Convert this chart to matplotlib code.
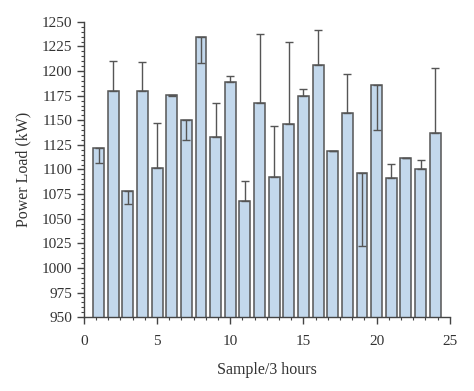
import numpy as np
import matplotlib
matplotlib.use("Agg")
import matplotlib.pyplot as plt
from matplotlib.ticker import MultipleLocator, AutoMinorLocator

plt.rcParams['font.family'] = ['Liberation Serif', 'DejaVu Serif']

samples = list(range(1, 25))
load = [1122, 1180, 1078, 1180, 1102, 1176, 1150, 1235, 1133, 1189, 1068, 1168,
        1092, 1146, 1175, 1206, 1119, 1157, 1096, 1186, 1091, 1112, 1100, 1137]
err_up = [0, 30, 0, 29, 45, 0, 0, 0, 35, 6, 20, 70,
          52, 84, 7, 36, 0, 40, 0, 0, 15, 0, 10, 66]
err_down = [15, 0, 13, 0, 0, 1, 20, 27, 0, 0, 0, 0,
            0, 0, 0, 0, 0, 0, 74, 46, 0, 0, 0, 0]

fig = plt.figure(figsize=(4.74, 3.91), dpi=100)
ax = fig.add_axes([0.177, 0.189, 0.772, 0.755])

ax.bar(samples, load, width=0.75, color='#c3d8ec', edgecolor='#555555', linewidth=1.1,
       yerr=[err_down, err_up], error_kw=dict(ecolor='#555555', elinewidth=1.0, capsize=3, capthick=1.0),
       zorder=2)

ax.set_xlim(0, 25)
ax.set_ylim(950, 1250)
ax.xaxis.set_major_locator(MultipleLocator(5))
ax.xaxis.set_minor_locator(AutoMinorLocator(6))
ax.yaxis.set_major_locator(MultipleLocator(25))
ax.yaxis.set_minor_locator(MultipleLocator(5))

for s in ['top', 'right']:
    ax.spines[s].set_visible(False)
for s in ['left', 'bottom']:
    ax.spines[s].set_color('#444444')
    ax.spines[s].set_linewidth(1.0)

ax.tick_params(axis='both', which='major', length=5, width=1, color='#444444', labelsize=11, labelcolor='#333333')
ax.tick_params(axis='both', which='minor', length=2.5, width=0.8, color='#444444')
ax.tick_params(axis='x', which='major', pad=8)

ax.set_xlabel('Sample/3 hours', fontsize=11.5, color='#333333', labelpad=10)
ax.set_ylabel('Power Load (kW)', fontsize=11.5, color='#333333', labelpad=7)

fig.savefig('out.png', dpi=100)
